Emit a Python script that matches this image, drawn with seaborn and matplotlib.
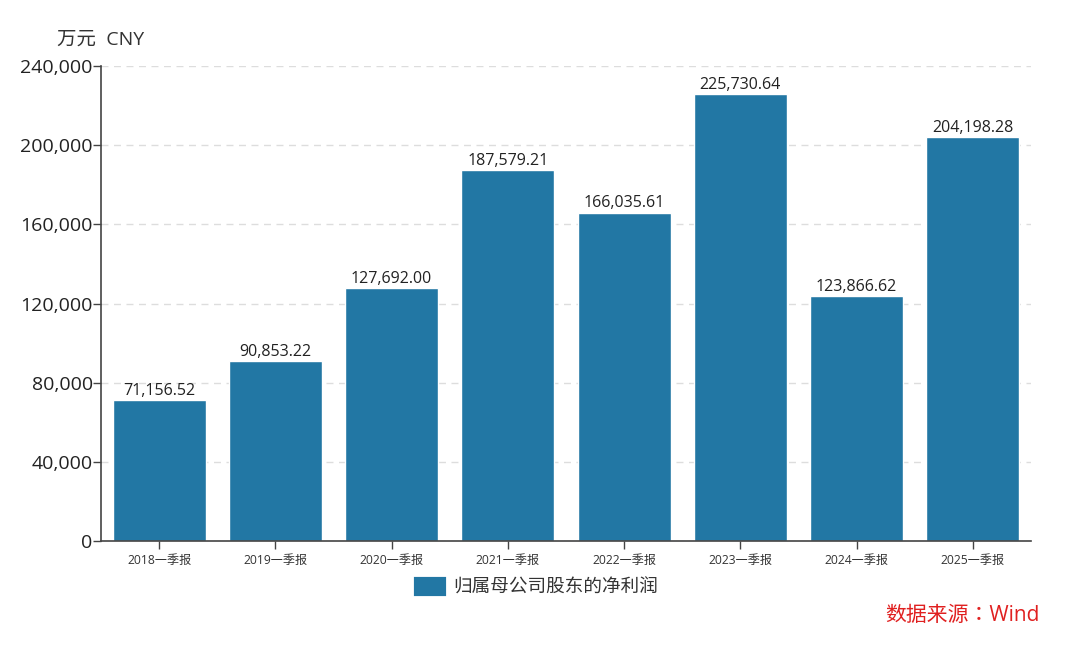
import matplotlib
matplotlib.use("Agg")
import matplotlib.pyplot as plt
import matplotlib.ticker as mticker
import seaborn as sns
import pandas as pd

# data
periods = ["2018一季报", "2019一季报", "2020一季报", "2021一季报",
           "2022一季报", "2023一季报", "2024一季报", "2025一季报"]
net_profit = [71156.52, 90853.22, 127692.00, 187579.21,
              166035.61, 225730.64, 123866.62, 204198.28]
series_name = "归属母公司股东的净利润"
y_ticks = [0, 40000, 80000, 120000, 160000, 200000, 240000]

df = pd.DataFrame({"period": periods, "value": net_profit, "series": series_name})

sns.set_style("white")
plt.rcParams["font.family"] = ["Open Sans", "Noto Sans CJK SC", "DejaVu Sans"]

fig = plt.figure(figsize=(10.8, 6.46), dpi=100)
ax = fig.add_axes([0.0935, 0.1625, 0.861, 0.735])

bar_color = "#2277A4"
sns.barplot(data=df, x="period", y="value", hue="series", palette=[bar_color],
            saturation=1, width=0.8, ax=ax, legend=False)

# value labels on top of bars
for p, v in zip(ax.patches, net_profit):
    ax.text(p.get_x() + p.get_width() / 2, v + 600, f"{v:,.2f}",
            ha="center", va="bottom", fontsize=11.5, color="#222222")

ax.set_ylim(0, 240000)
ax.set_xlim(-0.5, len(periods) - 0.5)
ax.set_yticks(y_ticks)
ax.yaxis.set_major_formatter(mticker.FuncFormatter(lambda x, _: f"{int(x):,}"))
ax.tick_params(axis="y", labelsize=14, length=6, width=1, color="#444444",
               labelcolor="#222222", left=True, pad=0)
ax.tick_params(axis="x", labelsize=8.7, length=6, width=1, color="#444444",
               labelcolor="#333333", bottom=True, pad=3)
ax.set_xlabel("")
ax.set_ylabel("")

ax.yaxis.grid(True, linestyle=(0, (5, 4)), color="#dddddd", linewidth=1)
ax.set_axisbelow(True)
for side in ["top", "right"]:
    ax.spines[side].set_visible(False)
for side in ["left", "bottom"]:
    ax.spines[side].set_color("#444444")
    ax.spines[side].set_linewidth(1.2)

fig.text(0.053, 0.938, "万元  CNY", fontsize=14, color="#333333", ha="left", va="center")

# legend below the axes, rounded handle via thick round-joined edge
handle = plt.Rectangle((0, 0), 1, 1, facecolor=bar_color, edgecolor=bar_color,
                       linewidth=3, joinstyle="round")
fig.legend([handle], [series_name], loc="center", bbox_to_anchor=(0.497, 0.09),
           frameon=False, fontsize=13.4, handlelength=1.5, handleheight=0.8,
           handletextpad=0.5, labelcolor="#333333")

fig.text(0.963, 0.047, "数据来源：Wind", fontsize=15, color="#e02020",
         ha="right", va="center", family=["Open Sans", "Noto Sans CJK TC"])

fig.savefig("out.png", dpi=100)
